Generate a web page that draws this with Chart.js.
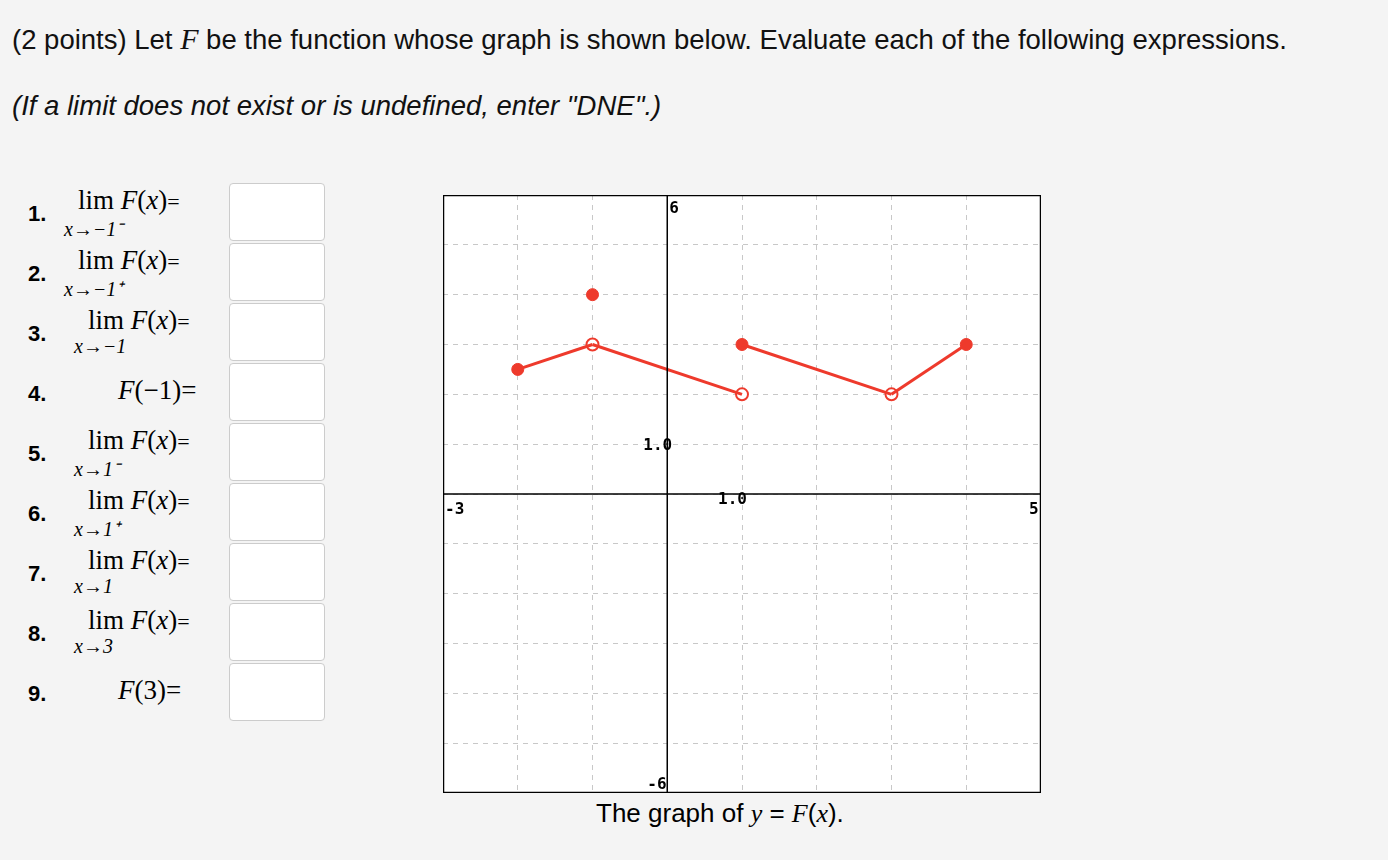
<!DOCTYPE html>
<html><head><meta charset="utf-8">
<script src="https://cdn.jsdelivr.net/npm/chart.js@4"></script>
<style>
body{margin:0;background:#f4f4f4;font-family:"Liberation Sans",Arial,sans-serif;width:1388px;height:860px;position:relative;overflow:hidden}
.t{position:absolute;left:12px;font-size:27.5px;color:#111}
.row{position:absolute;left:28px;height:58px;width:300px}
.n{position:absolute;left:0;top:18px;font-weight:bold;font-size:22px}
.m{position:absolute;font-family:"Liberation Serif","Times New Roman",serif;font-size:27px}
.s{position:absolute;font-family:"Liberation Serif",serif;font-size:20px;font-style:italic}
i{font-family:"Liberation Serif",serif}
.box{position:absolute;left:201px;top:0;width:94px;height:56px;border:1px solid #ccc;border-radius:4px;background:#fff}
#wrap{position:absolute;left:443px;top:195px;width:598px;height:598px}
.cap{position:absolute;left:596px;top:798px;font-size:26px}
</style></head><body>
<div class="t" style="top:22px">(2 points) Let <i style="font-size:30px">F</i> be the function whose graph is shown below. Evaluate each of the following expressions.</div>
<div class="t" style="top:90px;font-style:italic">(If a limit does not exist or is undefined, enter "DNE".)</div>
<div id="rows"></div>
<div id="wrap"><canvas id="c"></canvas></div>
<div class="cap">The graph of <i>y</i> = <i>F</i>(<i>x</i>).</div>
<script>
const limits = ['x→−1⁻','x→−1⁺','x→−1',null,'x→1⁻','x→1⁺','x→1','x→3',null];
const plain = [null,null,null,'F(−1)=',null,null,null,null,'F(3)='];
const segments = [[[-2,2.5],[-1,3]],[[-1,3],[1,2]],[[1,3],[3,2]],[[3,2],[4,3]]];
const filledPts = [[-2,2.5],[-1,4],[1,3],[4,3]];
const openPts = [[-1,3],[1,2],[3,2]];
const xTicks = [-3,-2,-1,0,1,2,3,4,5];
const yTicks = [-6,-5,-4,-3,-2,-1,0,1,2,3,4,5,6];

const rows = document.getElementById('rows');
limits.forEach(function(l, i) {
  const top = 183 + i * 60;
  let h = '<div class="row" style="top:' + top + 'px"><div class="n">' + (i + 1) + '.</div>';
  if (l) {
    const shift = l.length > 4 ? 0 : 10;
    h += '<div class="m" style="left:' + (50 + shift) + 'px;top:2px">lim <i>F</i>(<i>x</i>)<span style="font-size:22px">=</span></div>';
    h += '<div class="s" style="left:' + (36 + shift) + 'px;top:32px">' + l + '</div>';
  } else {
    h += '<div class="m" style="left:90px;top:12px"><i>F</i>' + plain[i].slice(1) + '</div>';
  }
  h += '<div class="box"></div></div>';
  rows.innerHTML += h;
});

const red = '#ee3a2c';
const datasets = segments.map(function(s) {
  return {data: s.map(p => ({x: p[0], y: p[1]})), borderColor: red, borderWidth: 3, pointRadius: 0, showLine: true};
});
datasets.push({data: openPts.map(p => ({x: p[0], y: p[1]})), pointRadius: 6, pointBackgroundColor: '#fff', pointBorderColor: red, pointBorderWidth: 2, showLine: false});
datasets.push({data: filledPts.map(p => ({x: p[0], y: p[1]})), pointRadius: 6, pointBackgroundColor: red, pointBorderColor: red, showLine: false});

const deco = {
  id: 'deco',
  afterDraw(chart) {
    const c = chart.ctx, xs = chart.scales.x, ys = chart.scales.y, a = chart.chartArea;
    const x0 = xs.getPixelForValue(0), y0 = ys.getPixelForValue(0);
    c.save();
    c.strokeStyle = '#000'; c.lineWidth = 1.5;
    c.beginPath(); c.moveTo(x0, a.top); c.lineTo(x0, a.bottom);
    c.moveTo(a.left, y0); c.lineTo(a.right, y0); c.stroke();
    c.strokeRect(a.left + 0.5, a.top + 0.5, a.right - a.left - 1, a.bottom - a.top - 1);
    c.font = 'bold 16px "DejaVu Sans Mono", monospace'; c.fillStyle = '#000';
    c.fillText('6', x0 + 2, a.top + 18);
    c.fillText('-6', x0 - 20, a.bottom - 4);
    c.fillText('-3', a.left + 2, y0 + 20);
    c.fillText('5', a.right - 12, y0 + 20);
    c.fillText('1.0', x0 - 24, ys.getPixelForValue(1) + 6);
    c.fillText('1.0', xs.getPixelForValue(1) - 24, y0 + 10);
    c.restore();
  }
};

new Chart(document.getElementById('c'), {
  type: 'scatter',
  data: {datasets: datasets},
  options: {
    responsive: true, maintainAspectRatio: false, animation: false,
    layout: {padding: 0, autoPadding: false},
    plugins: {legend: {display: false}, tooltip: {enabled: false}},
    scales: {
      x: {type: 'linear', min: -3, max: 5, afterBuildTicks: s => { s.ticks = xTicks.map(v => ({value: v})); },
          ticks: {display: false}, border: {display: false, dash: [5, 5]}, grid: {color: '#c8c8c8', drawTicks: false}},
      y: {type: 'linear', min: -6, max: 6, afterBuildTicks: s => { s.ticks = yTicks.map(v => ({value: v})); },
          ticks: {display: false}, border: {display: false, dash: [5, 5]}, grid: {color: '#c8c8c8', drawTicks: false}}
    }
  },
  plugins: [deco, {id: 'bg', beforeDraw(ch) { ch.ctx.fillStyle = '#fff'; ch.ctx.fillRect(0, 0, ch.width, ch.height); }}]
});
</script>
</body></html>
